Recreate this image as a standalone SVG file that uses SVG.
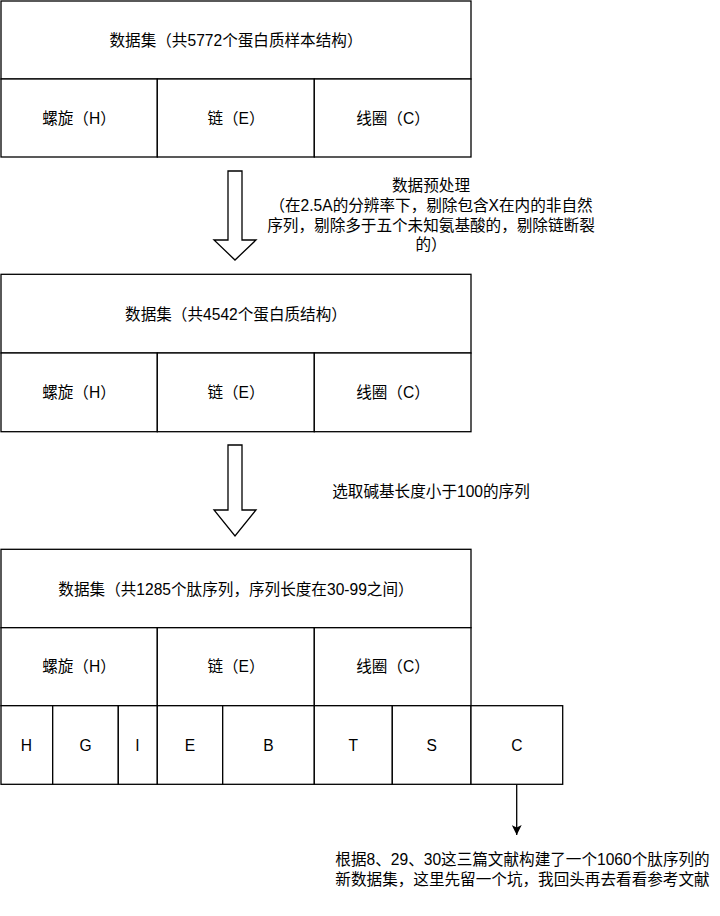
<svg xmlns="http://www.w3.org/2000/svg" width="720" height="916" viewBox="0 0 720 916">
<defs>
<style>
.c{fill:#fff;stroke:#000;stroke-width:1.3}
.t{font-family:"Liberation Sans","Noto Sans CJK SC",sans-serif;font-size:15.6px;fill:#000;text-anchor:middle;dominant-baseline:central}
.ln{fill:none;stroke:#000;stroke-width:1.3}
.ha{fill:#fff;stroke:#000;stroke-width:1.3;stroke-linejoin:miter}
</style>
<marker id="ah" viewBox="0 0 10 10" refX="10" refY="5" markerWidth="10" markerHeight="10" markerUnits="userSpaceOnUse" orient="auto">
<path d="M0,0 L10,5 L0,10 L2.5,5 Z" fill="#000"/>
</marker>
</defs>
<rect width="720" height="916" fill="#fff"/>

<g id="connectors">
<path class="ha" d="M228,171 H242 V240 H256 L235,260 L214,240 H228 Z"/>
<path class="ha" d="M228,445 H242 V510 H256 L235,536 L214,510 H228 Z"/>
<path class="ln" d="M236,602 V627.7"/>
<path class="ln" d="M516.7,784.3 V835" marker-end="url(#ah)"/>
</g>

<g id="dataset1">
<rect class="c" x="1" y="1" width="470" height="78"/>
<text class="t" x="236" y="40">数据集（共5772个蛋白质样本结构）</text>
</g>
<g id="d1-helix">
<rect class="c" x="1" y="79" width="156.3" height="78"/>
<text class="t" x="79" y="118">螺旋（H）</text>
</g>
<g id="d1-strand">
<rect class="c" x="157.3" y="79" width="157" height="78"/>
<text class="t" x="236" y="118">链（E）</text>
</g>
<g id="d1-coil">
<rect class="c" x="314.3" y="79" width="156.7" height="78"/>
<text class="t" x="393" y="118">线圈（C）</text>
</g>

<g id="label-preprocess">
<text class="t" x="431" y="185">数据预处理</text>
<text class="t" x="431" y="205.5">（在2.5A的分辨率下，剔除包含X在内的非自然</text>
<text class="t" x="431" y="225">序列，剔除多于五个未知氨基酸的，剔除链断裂</text>
<text class="t" x="431" y="244.5">的）</text>
</g>

<g id="dataset2">
<rect class="c" x="1" y="274.3" width="470" height="78.7"/>
<text class="t" x="236" y="314.5">数据集（共4542个蛋白质结构）</text>
</g>
<g id="d2-helix">
<rect class="c" x="1" y="353" width="156.3" height="78.7"/>
<text class="t" x="79" y="392.5">螺旋（H）</text>
</g>
<g id="d2-strand">
<rect class="c" x="157.3" y="353" width="157" height="78.7"/>
<text class="t" x="236" y="392.5">链（E）</text>
</g>
<g id="d2-coil">
<rect class="c" x="314.3" y="353" width="156.7" height="78.7"/>
<text class="t" x="393" y="392.5">线圈（C）</text>
</g>

<g id="label-select">
<text class="t" x="431" y="491.5">选取碱基长度小于100的序列</text>
</g>

<g id="dataset3">
<rect class="c" x="1" y="549.3" width="470" height="78.4"/>
<text class="t" x="236" y="589.3">数据集（共1285个肽序列，序列长度在30-99之间）</text>
</g>
<g id="d3-helix">
<rect class="c" x="1" y="627.7" width="156.3" height="78"/>
<text class="t" x="79" y="666.7">螺旋（H）</text>
</g>
<g id="d3-strand">
<rect class="c" x="157.3" y="627.7" width="157" height="78"/>
<text class="t" x="236" y="666.7">链（E）</text>
</g>
<g id="d3-coil">
<rect class="c" x="314.3" y="627.7" width="156.7" height="78"/>
<text class="t" x="393" y="666.7">线圈（C）</text>
</g>

<g id="ss-H"><rect class="c" x="1" y="705.7" width="51.7" height="78.6"/><text class="t" x="26.5" y="745">H</text></g>
<g id="ss-G"><rect class="c" x="52.7" y="705.7" width="65.6" height="78.6"/><text class="t" x="85.5" y="745">G</text></g>
<g id="ss-I"><rect class="c" x="118.3" y="705.7" width="39" height="78.6"/><text class="t" x="137.5" y="745">I</text></g>
<g id="ss-E"><rect class="c" x="157.3" y="705.7" width="65.4" height="78.6"/><text class="t" x="190" y="745">E</text></g>
<g id="ss-B"><rect class="c" x="222.7" y="705.7" width="91.6" height="78.6"/><text class="t" x="268.5" y="745">B</text></g>
<g id="ss-T"><rect class="c" x="314.3" y="705.7" width="78" height="78.6"/><text class="t" x="353.3" y="745">T</text></g>
<g id="ss-S"><rect class="c" x="392.3" y="705.7" width="78.7" height="78.6"/><text class="t" x="431.7" y="745">S</text></g>
<g id="ss-C"><rect class="c" x="471" y="705.7" width="91.7" height="78.6"/><text class="t" x="516.8" y="745">C</text></g>

<g id="note">
<text class="t" x="522.5" y="859.5">根据8、29、30这三篇文献构建了一个1060个肽序列的</text>
<text class="t" x="522.5" y="879.5">新数据集，这里先留一个坑，我回头再去看看参考文献</text>
</g>
</svg>
